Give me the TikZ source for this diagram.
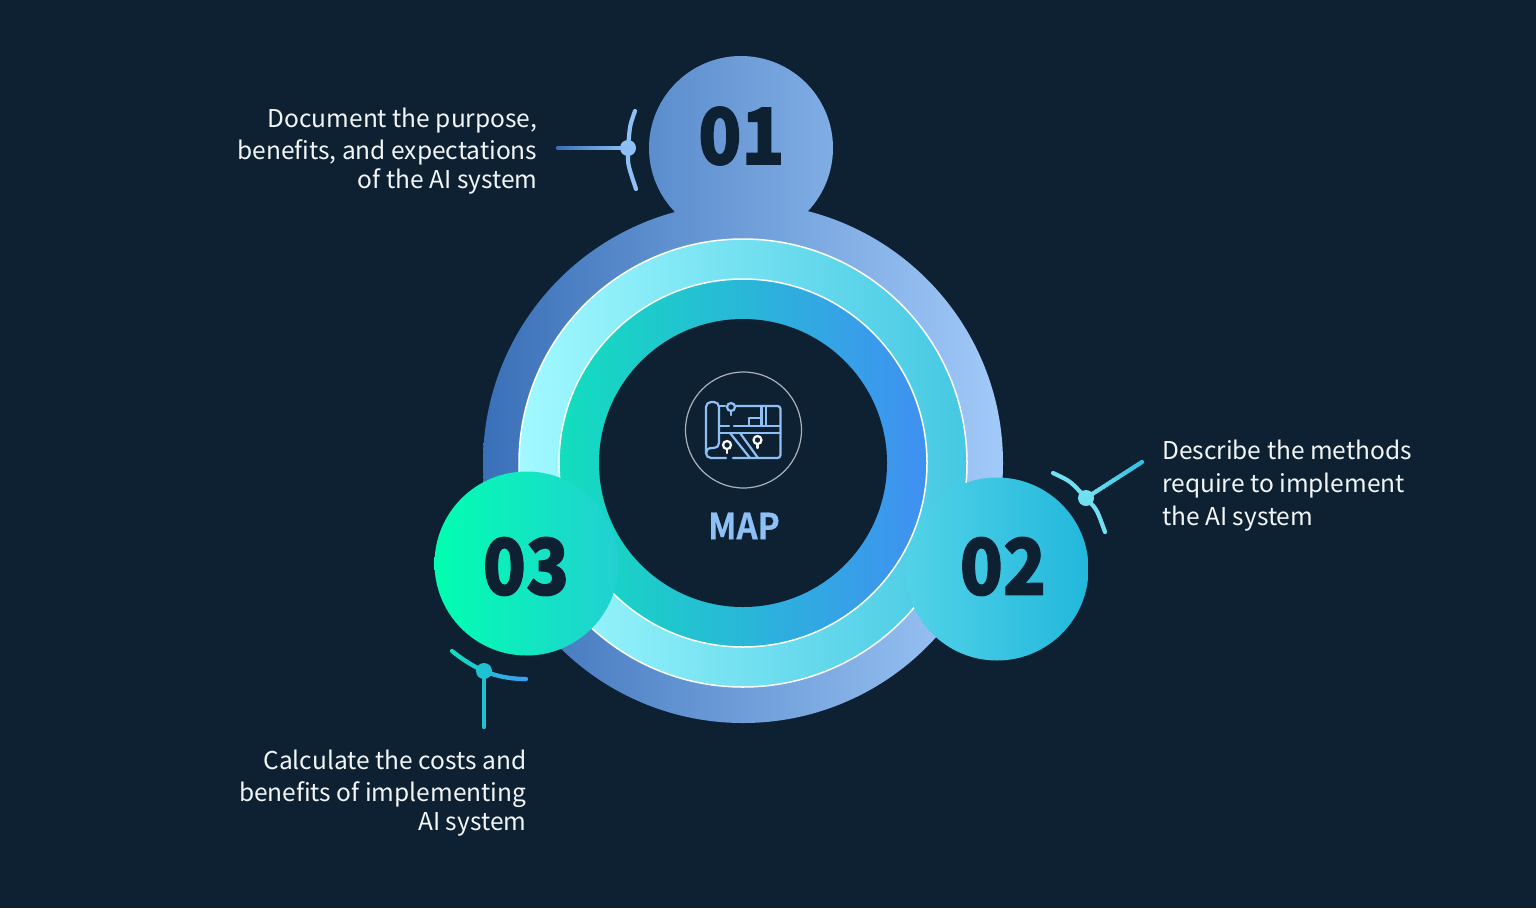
\documentclass[tikz,border=0pt]{standalone}
\usepackage{fontspec}
\setmainfont{Noto Sans CJK SC}
\newfontfamily\numfont[FakeStretch=0.91,FakeBold=1.4]{Noto Sans CJK SC Black}
\newfontfamily\mapfont[FakeStretch=0.92,FakeBold=0.5]{Noto Sans CJK SC Bold}
\usetikzlibrary{calc}
\definecolor{bgdark}{HTML}{0E2133}
\definecolor{iconblue}{HTML}{8FC0F5}
\definecolor{labelwhite}{HTML}{F2F6F8}
\definecolor{outerL}{HTML}{3A70B8}
\definecolor{outerR}{HTML}{A2CAF9}
\definecolor{midL}{HTML}{A2F9FF}
\definecolor{midR}{HTML}{45C8E2}
\definecolor{innerL}{HTML}{12DEBE}
\definecolor{innerR}{HTML}{4090F2}
\definecolor{twoL}{HTML}{52D2E8}
\definecolor{twoR}{HTML}{22B8DC}
\definecolor{threeL}{HTML}{00FFB0}
\definecolor{threeR}{HTML}{22D0D2}
\definecolor{wireTwoA}{HTML}{30C0E0}
\definecolor{wireTwoB}{HTML}{70E0F2}
\definecolor{wireThree}{HTML}{20C2D2}
\definecolor{wireThreeA}{HTML}{12E0BE}
\definecolor{wireThreeB}{HTML}{3AA0F2}
\tikzset{
  disc/.style={circle,inner sep=0pt,outer sep=0pt,minimum size=#1},
  numlabel/.style={text=bgdark,font=\numfont\fontsize{78}{78}\selectfont},
  infotext/.style={text=labelwhite,inner sep=0pt,font=\fontsize{24.5}{32}\selectfont},
  dot/.style={circle,inner sep=0pt,outer sep=0pt,minimum size=16pt,fill=#1},
  wire/.style={line width=4.2pt,line cap=round},
  mapline/.style={draw=iconblue,line width=2.2pt,line cap=round,line join=round},
  mappin/.style={circle,draw=white,fill=bgdark,line width=2.2pt,inner sep=0pt,minimum size=8pt}
}
% wire with a colour run: start, bend, end, first colour, last colour
\newcommand{\gradwire}[5]{
  \foreach \i in {1,...,16}{
    \pgfmathsetmacro\tA{(\i-1)/16}
    \pgfmathsetmacro\tB{\i/16}
    \pgfmathtruncatemacro\pct{100*(\i-0.5)/16}
    \draw[wire,color=#5!\pct!#4]
      ($($(#1)!\tA!(#2)$)!\tA!($(#2)!\tA!(#3)$)$) -- ($($(#1)!\tB!(#2)$)!\tB!($(#2)!\tB!(#3)$)$);
  }
}
\begin{document}
\begin{tikzpicture}[x=1pt,y=-1pt]
\fill[bgdark] (0,0) rectangle (1536,908);
\coordinate (C) at (743,463);
\coordinate (step1) at (741,148);

% rings
\path[left color=outerL,right color=outerR] (C) circle (260pt) (step1) circle (92pt);
\node[disc=448pt,draw=white,line width=1.5pt,left color=midL,right color=midR] (ringMid) at (C) {};
\node[disc=183pt,left color=twoL,right color=twoR] (step2) at (997,569) {};
\node[disc=368pt,draw=white,line width=1.5pt,left color=innerL,right color=innerR] (ringIn) at (C) {};
\node[disc=184pt,left color=threeL,right color=threeR] (step3) at (526.5,563.5) {};
\node[disc=288pt,fill=bgdark] (hole) at (C) {};

% numbers
\node[numlabel] (num1) at (741.5,136) {01};
\node[numlabel] (num2) at (1003,566.5) {02};
\node[numlabel] (num3) at (526,566.5) {03};

% map icon
\node[disc=116pt,draw=white!65!bgdark,line width=1.2pt] (iconRing) at (743.5,430) {};
\draw[mapline,rounded corners=3pt] (735,406) -- (780.5,406) -- (780.5,458) -- (733,458);
\draw[mapline] (719,406) -- (725,406);
\draw[mapline,rounded corners=5pt] (726,458) -- (706,458) -- (706,402) -- (719,402) -- (719,448) -- (712,448);
\draw[mapline] (712,448) .. controls (708,448) and (706,450) .. (706,453);
\draw[mapline] (761.5,406) -- (761.5,426);
\draw[mapline] (766,406) -- (766,426);
\draw[mapline] (719,426) -- (729,426);
\draw[mapline] (734,426) -- (780,426);
\draw[mapline] (749,426) -- (749,418) -- (760,418);
\draw[mapline] (719,433) -- (780,433);
\draw[mapline] (730,433) -- (750,458);
\draw[mapline] (740,433) -- (758,458);
\draw[mapline] (731,411) -- (731,415);
\draw[draw=white,line width=2.2pt,line cap=round] (727,449) -- (727,453);
\draw[draw=white,line width=2.2pt,line cap=round] (757.5,444) -- (757.5,448);
\node[mappin,draw=iconblue] (pinTop) at (731,407) {};
\node[mappin] (pinLeft) at (727,445) {};
\node[mappin] (pinRight) at (757.5,440) {};
\node[text=iconblue,font=\mapfont\fontsize{36}{36}\selectfont] (maptext) at (744,526) {MAP};

% connectors
\node[dot=iconblue] (tick1) at (628,148) {};
\coordinate (end1) at (558,148);
\coordinate (up1) at (635,111);
\coordinate (low1) at (636,189);
\gradwire{end1}{$(end1)!0.5!(tick1)$}{tick1}{outerL}{iconblue}
\draw[wire,iconblue] (up1) .. controls (630,125) .. (tick1) .. controls (628,165) .. (low1);

\node[dot=wireTwoB] (tick2) at (1086,498) {};
\coordinate (end2) at (1142,462);
\coordinate (up2) at (1053,473);
\coordinate (low2) at (1105,532);
\gradwire{end2}{$(end2)!0.5!(tick2)$}{tick2}{wireTwoA}{wireTwoB}
\draw[wire,wireTwoB] (up2) .. controls (1070,481) .. (tick2) .. controls (1097,510) .. (low2);

\node[dot=wireThree] (tick3) at (484,671) {};
\coordinate (end3) at (484,727);
\coordinate (up3) at (452,651);
\coordinate (low3) at (526,679);
\coordinate (bend3a) at (468,664);
\coordinate (bend3b) at (503,679);
\draw[wire,wireThree] (tick3) -- (end3);
\gradwire{up3}{bend3a}{tick3}{wireThreeA}{wireThree}
\gradwire{tick3}{bend3b}{low3}{wireThree}{wireThreeB}

% texts
\node[infotext,align=right,anchor=north east] (text1) at (537.5,108) {Document the purpose,\\benefits, and expectations\\[-3pt]of the AI system};
\node[infotext,align=left,anchor=north west] (text2) at (1162,440) {Describe the methods\\[1pt]require to implement\\[1pt]the AI system};
\node[infotext,align=right,anchor=north east] (text3) at (526.5,750) {Calculate the costs and\\benefits of implementing\\[-3pt]AI system};
\end{tikzpicture}
\end{document}
